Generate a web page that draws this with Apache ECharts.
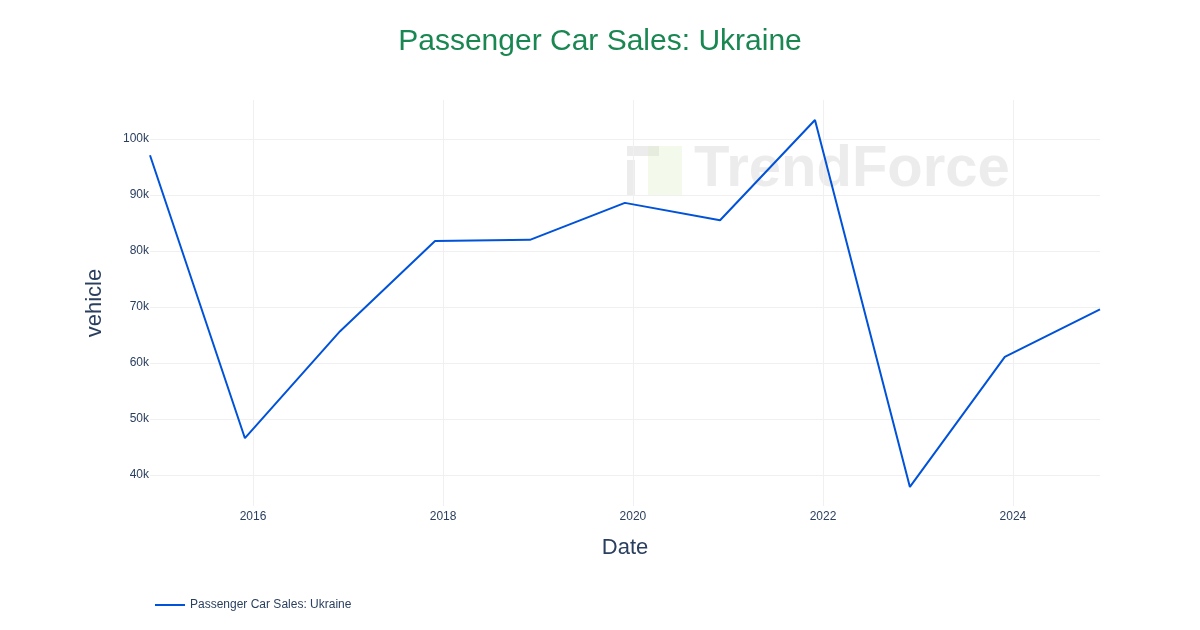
<!DOCTYPE html>
<html>
<head>
<meta charset="utf-8">
<script src="https://cdn.jsdelivr.net/npm/echarts@6/dist/echarts.min.js"></script>
<style>
  html, body { margin: 0; padding: 0; background: #fff; }
  #chart { width: 1200px; height: 630px; }
</style>
</head>
<body>
<div id="chart"></div>
<script>
// yearly points
const dates = ['2014-12-01', '2015-12-01', '2016-12-01', '2017-12-01', '2018-12-01', '2019-12-01',
  '2020-12-01', '2021-12-01', '2022-12-01', '2023-12-01', '2024-12-01'];
const sales = [97100, 46600, 65700, 81800, 82000, 88600, 85500, 103400, 37900, 61100, 69600];
const xTicks = ['2016-01-01', '2018-01-01', '2020-01-01', '2022-01-01', '2024-01-01'];
const yTicks = [40000, 50000, 60000, 70000, 80000, 90000, 100000];

const seriesName = 'Passenger Car Sales: Ukraine';
const textColor = '#2a3f5f';
const gridColor = '#f0f0f0';
const wmColor = 'rgba(200,200,200,0.35)';

const myChart = echarts.init(document.getElementById('chart'));
const ts = (d) => new Date(d + 'T00:00:00Z').getTime();

// value axis with timestamps, so tick positions can be pinned to Jan 1
myChart.setOption({
  backgroundColor: '#fff',
  animation: false,
  textStyle: { fontFamily: 'Liberation Sans, Arial, sans-serif' },
  title: {
    text: 'Passenger Car Sales: Ukraine',
    left: 'center',
    top: 22,
    textStyle: { color: '#1a8752', fontSize: 30, fontWeight: 'normal' }
  },
  graphic: [
    {
      type: 'text', left: 694, top: 141, silent: true, z: 0,
      style: { text: 'TrendForce', fill: wmColor, font: 'bold 58px Liberation Sans, Arial, sans-serif' }
    },
    { type: 'rect', left: 627, top: 146, silent: true, z: 0, shape: { width: 32, height: 10 }, style: { fill: wmColor } },
    { type: 'rect', left: 627, top: 160, silent: true, z: 0, shape: { width: 8, height: 36 }, style: { fill: wmColor } },
    { type: 'rect', left: 648, top: 146, silent: true, z: 0, shape: { width: 34, height: 50 }, style: { fill: 'rgba(215,235,190,0.3)' } }
  ],
  legend: {
    left: 150,
    top: 594,
    icon: 'path://M0,0 L30,0 L30,2 L0,2 Z',
    itemWidth: 30,
    itemHeight: 2,
    itemGap: 5,
    textStyle: { color: textColor, fontSize: 12 },
    data: [seriesName]
  },
  grid: { left: 150, right: 100, top: 100, bottom: 124 },
  xAxis: {
    type: 'value',
    min: ts(dates[0]),
    max: ts(dates[dates.length - 1]),
    name: 'Date',
    nameLocation: 'middle',
    nameGap: 31,
    nameTextStyle: { color: textColor, fontSize: 22 },
    axisLine: { show: false },
    axisTick: { show: false, customValues: xTicks.map(ts) },
    axisLabel: {
      color: textColor, fontSize: 12, margin: 5,
      customValues: xTicks.map(ts),
      formatter: (v) => String(new Date(v).getUTCFullYear())
    },
    splitLine: { show: true, lineStyle: { color: gridColor, width: 1 } }
  },
  yAxis: {
    type: 'value',
    min: 34500,
    max: 106960,
    name: 'vehicle',
    nameLocation: 'middle',
    nameGap: 44,
    nameRotate: 90,
    nameTextStyle: { color: textColor, fontSize: 22 },
    axisLine: { show: false },
    axisTick: { show: false, customValues: yTicks },
    axisLabel: {
      color: textColor, fontSize: 12, margin: 1,
      customValues: yTicks,
      formatter: (v) => (v / 1000) + 'k'
    },
    splitLine: { show: true, lineStyle: { color: gridColor, width: 1 } }
  },
  series: [{
    name: seriesName,
    type: 'line',
    data: dates.map((d, i) => [ts(d), sales[i]]),
    showSymbol: false,
    lineStyle: { color: '#0052d9', width: 2 },
    itemStyle: { color: '#0052d9' },
    z: 5
  }]
});
</script>
</body>
</html>
